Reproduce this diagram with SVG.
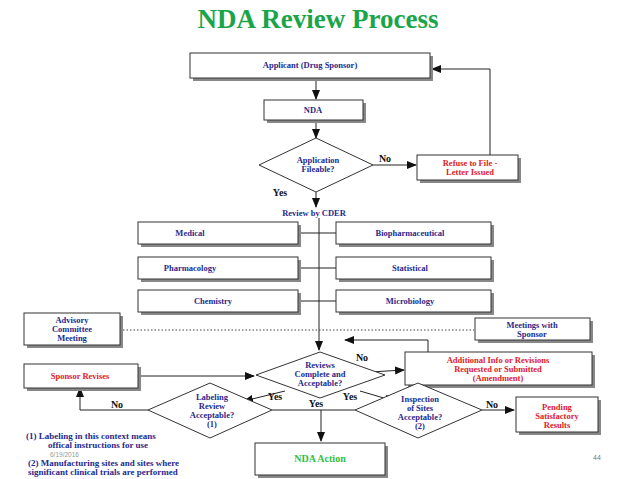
<svg xmlns="http://www.w3.org/2000/svg" width="638" height="479" viewBox="0 0 638 479">
<defs>
<marker id="ah" markerWidth="10" markerHeight="8" refX="9" refY="4" orient="auto" markerUnits="userSpaceOnUse"><path d="M0,0 L10,4 L0,8 Z" fill="#111"/></marker>
</defs>
<style>
.b{fill:#fff;stroke:#333;stroke-width:1}
.s{fill:#888}
.t{font-family:"Liberation Serif",serif;font-weight:bold;font-size:8.5px;fill:#1f2a8c;text-anchor:middle}
.r{fill:#e0202a}
.g{fill:#2fbf3f;font-size:10px}
.k{font-family:"Liberation Serif",serif;font-weight:bold;font-size:10px;fill:#111;text-anchor:middle}
.c{fill:none;stroke:#222;stroke-width:1}
.n{font-family:"Liberation Serif",serif;font-weight:bold;font-size:9px;fill:#1f2a8c}
</style>
<rect width="638" height="479" fill="#fff"/>
<text x="318" y="28" font-family="Liberation Serif,serif" font-weight="bold" font-size="27" fill="#1aa54a" text-anchor="middle">NDA Review Process</text>

<g id="connectors">
<line class="c" x1="316" y1="78" x2="316" y2="99" marker-end="url(#ah)"/>
<line class="c" x1="316" y1="120" x2="316" y2="138" marker-end="url(#ah)"/>
<line class="c" x1="373" y1="165" x2="416" y2="165" marker-end="url(#ah)"/>
<polyline class="c" points="490,155 490,69 432,69" marker-end="url(#ah)"/>
<line class="c" x1="316" y1="192" x2="316" y2="207" marker-end="url(#ah)"/>
<line class="c" x1="319" y1="218" x2="319" y2="350" marker-end="url(#ah)"/>
<line class="c" x1="300" y1="233" x2="336" y2="233"/>
<line class="c" x1="300" y1="268" x2="336" y2="268"/>
<line class="c" x1="300" y1="301" x2="336" y2="301"/>
<line x1="123" y1="330" x2="474" y2="330" stroke="#444" stroke-dasharray="1.5,2"/>
<polyline class="c" points="428,352 428,340 345,340" marker-end="url(#ah)"/>
<line class="c" x1="370" y1="372" x2="404" y2="370" marker-end="url(#ah)"/>
<line class="c" x1="138" y1="376" x2="254" y2="376" marker-end="url(#ah)"/>
<line class="c" x1="285" y1="391" x2="244" y2="401" marker-end="url(#ah)"/>
<line class="c" x1="360" y1="391" x2="394" y2="401" marker-end="url(#ah)"/>
<polyline class="c" points="148,410 80,410 80,388" marker-end="url(#ah)"/>
<line class="c" x1="272" y1="410" x2="355" y2="410"/>
<line class="c" x1="321" y1="410" x2="321" y2="441" marker-end="url(#ah)"/>
<line class="c" x1="482" y1="410" x2="514" y2="410" marker-end="url(#ah)"/>
</g>
<g class="k">
<text x="385" y="162">No</text>
<text x="280" y="196">Yes</text>
<text x="362" y="361">No</text>
<text x="275" y="400">Yes</text>
<text x="350" y="400">Yes</text>
<text x="316" y="407">Yes</text>
<text x="117" y="408">No</text>
<text x="492" y="408">No</text>
</g>

<g id="applicant"><rect class="s" x="193" y="56" width="240" height="25"/><rect class="b" x="190" y="53" width="240" height="25"/><text class="t" x="310" y="68">Applicant (Drug Sponsor)</text></g>
<g id="nda"><rect class="s" x="267" y="103" width="99" height="20"/><rect class="b" x="264" y="100" width="99" height="20"/><text class="t" x="313" y="113">NDA</text></g>
<g id="fileable"><polygon class="b" points="316,138 373,165 316,192 259,165"/><text class="t" x="318" y="163">Application</text><text class="t" x="318" y="172">Fileable?</text></g>
<g id="refuse"><rect class="s" x="420" y="158" width="101" height="25"/><rect class="b" x="417" y="155" width="101" height="25"/><text class="t r" x="470" y="166">Refuse to File -</text><text class="t r" x="470" y="175">Letter Issued</text></g>
<text class="t" x="314" y="216">Review by CDER</text>
<g id="medical"><rect class="s" x="141" y="225" width="160" height="22"/><rect class="b" x="138" y="222" width="160" height="22"/><text class="t" x="190" y="236">Medical</text></g>
<g id="biopharm"><rect class="s" x="339" y="225" width="155" height="22"/><rect class="b" x="336" y="222" width="155" height="22"/><text class="t" x="410" y="236">Biopharmaceutical</text></g>
<g id="pharmacology"><rect class="s" x="141" y="260" width="160" height="22"/><rect class="b" x="138" y="257" width="160" height="22"/><text class="t" x="190" y="271">Pharmacology</text></g>
<g id="statistical"><rect class="s" x="339" y="260" width="155" height="22"/><rect class="b" x="336" y="257" width="155" height="22"/><text class="t" x="410" y="271">Statistical</text></g>
<g id="chemistry"><rect class="s" x="141" y="293" width="160" height="22"/><rect class="b" x="138" y="290" width="160" height="22"/><text class="t" x="213" y="304">Chemistry</text></g>
<g id="microbiology"><rect class="s" x="339" y="293" width="155" height="22"/><rect class="b" x="336" y="290" width="155" height="22"/><text class="t" x="410" y="304">Microbiology</text></g>
<g id="advisory"><rect class="s" x="27" y="316" width="96" height="32"/><rect class="b" x="24" y="313" width="96" height="32"/><text class="t" x="72" y="323">Advisory</text><text class="t" x="72" y="332">Committee</text><text class="t" x="72" y="341">Meeting</text></g>
<g id="meetings"><rect class="s" x="478" y="321" width="115" height="22"/><rect class="b" x="475" y="318" width="115" height="22"/><text class="t" x="532" y="328">Meetings with</text><text class="t" x="532" y="337">Sponsor</text></g>
<g id="additional"><rect class="s" x="408" y="355" width="187" height="33"/><rect class="b" x="405" y="352" width="187" height="33"/><text class="t r" x="498" y="363">Additional Info or Revisions</text><text class="t r" x="498" y="372">Requested or Submitted</text><text class="t r" x="498" y="381">(Amendment)</text></g>
<g id="reviews"><polygon class="b" points="320,352 385,375 320,398 256,375"/><text class="t" x="320" y="368">Reviews</text><text class="t" x="320" y="377">Complete and</text><text class="t" x="320" y="386">Acceptable?</text></g>
<g id="sponsor"><rect class="s" x="27" y="367" width="114" height="24"/><rect class="b" x="24" y="364" width="114" height="24"/><text class="t r" x="80" y="379">Sponsor Revises</text></g>
<g id="labeling"><polygon class="b" points="210,383 272,410 210,438 148,410"/><text class="t" x="212" y="400">Labeling</text><text class="t" x="212" y="409">Review</text><text class="t" x="212" y="418">Acceptable?</text><text class="t" x="212" y="427">(1)</text></g>
<g id="inspection"><polygon class="b" points="418,383 482,410 418,438 355,410"/><text class="t" x="420" y="402">Inspection</text><text class="t" x="420" y="411">of Sites</text><text class="t" x="420" y="420">Acceptable?</text><text class="t" x="420" y="429">(2)</text></g>
<g id="pending"><rect class="s" x="519" y="400" width="82" height="35"/><rect class="b" x="516" y="397" width="82" height="35"/><text class="t r" x="557" y="410">Pending</text><text class="t r" x="557" y="419">Satisfactory</text><text class="t r" x="557" y="428">Results</text></g>
<g id="ndaaction"><rect class="s" x="258" y="446" width="130" height="32"/><rect class="b" x="255" y="443" width="130" height="32"/><text class="t g" x="320" y="462">NDA Action</text></g>

<g id="notes">
<text class="n" x="26" y="439">(1) Labeling in this context means</text>
<text class="n" x="48" y="448">offical instructions for use</text>
<text class="n" x="28" y="466">(2) Manufacturing sites and sites where</text>
<text class="n" x="28" y="475">significant clinical trials are performed</text>
</g>
<text x="50" y="457" font-family="Liberation Sans,sans-serif" font-size="6.5" fill="#999">6/19/2016</text>
<text x="597" y="460" font-family="Liberation Sans,sans-serif" font-size="7" fill="#777" text-anchor="middle">44</text>
</svg>
